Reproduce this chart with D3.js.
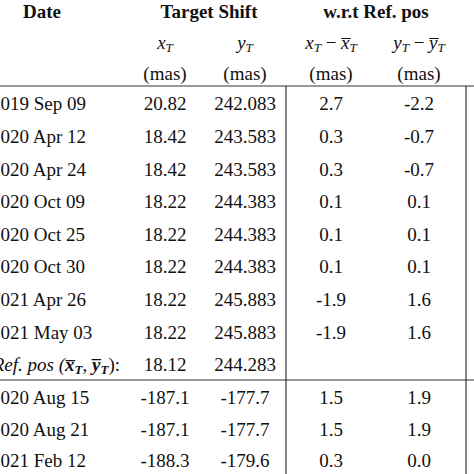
<!DOCTYPE html>
<html><head><meta charset="utf-8">
<script src="https://cdn.jsdelivr.net/npm/d3@7"></script>
<style>body{margin:0;background:#fff}svg{display:block}</style>
</head><body><svg id="c" width="474" height="474"></svg>
<script>
const dates = ["2019 Sep 09","2020 Apr 12","2020 Apr 24","2020 Oct 09","2020 Oct 25","2020 Oct 30","2021 Apr 26","2021 May 03"];
const xT = ["20.82","18.42","18.42","18.22","18.22","18.22","18.22","18.22"];
const yT = ["242.083","243.583","243.583","244.383","244.383","244.383","245.883","245.883"];
const dx = ["2.7","0.3","0.3","0.1","0.1","0.1","-1.9","-1.9"];
const dy = ["-2.2","-0.7","-0.7","0.1","0.1","0.1","1.6","1.6"];
const refPos = ["18.12","244.283"];
const dates2 = ["2020 Aug 15","2020 Aug 21","2021 Feb 12"];
const xT2 = ["-187.1","-187.1","-188.3"];
const yT2 = ["-177.7","-177.7","-179.6"];
const dx2 = ["1.5","1.5","0.3"];
const dy2 = ["1.9","1.9","0.0"];

const svg = d3.select("#c");
const F = "Liberation Serif, DejaVu Serif, serif";
const colX = d3.scaleOrdinal().domain(["xT","yT","dx","dy"]).range([165,245,331,419]);
const rowY1 = d3.scalePoint().domain(d3.range(9)).range([106,367]);
const rowY2 = d3.scalePoint().domain(d3.range(3)).range([400,463]);
const g = svg.append("g").attr("font-family",F).attr("font-size",19).attr("fill","#111");
function t(x,y,s,anchor="middle",extra={}){const e=g.append("text").attr("x",x).attr("y",y).attr("text-anchor",anchor).attr("dominant-baseline","middle").text(s);for(const k in extra)e.attr(k,extra[k]);return e;}
t(42,14,"Date","middle",{"font-weight":"bold"});
t(209,14,"Target Shift","middle",{"font-weight":"bold"});
t(376,14,"w.r.t Ref. pos","middle",{"font-weight":"bold"});
function mathLbl(x,v,bar){
  const e=g.append("text").attr("x",x).attr("y",45).attr("text-anchor","middle").attr("dominant-baseline","middle");
  e.append("tspan").attr("font-style","italic").text(v);
  e.append("tspan").attr("font-style","italic").attr("font-size",13).attr("dy",4).text("T");
  if(bar){e.append("tspan").attr("dy",-4).text(" − ");
    e.append("tspan").attr("font-style","italic").text(v+"\u0305");
    e.append("tspan").attr("font-style","italic").attr("font-size",13).attr("dy",4).text("T");}
}
mathLbl(colX("xT"),"x",false);mathLbl(colX("yT"),"y",false);
mathLbl(colX("dx"),"x",true);mathLbl(colX("dy"),"y",true);
["xT","yT","dx","dy"].forEach(k=>t(colX(k),76,"(mas)"));
dates.forEach((d,i)=>{const y=rowY1(i);
  t(-9,y,d,"start");t(colX("xT"),y,xT[i]);t(colX("yT"),y,yT[i]);t(colX("dx"),y,dx[i]);t(colX("dy"),y,dy[i]);});
const ry=rowY1(8);
const rp=g.append("text").attr("x",120).attr("y",ry).attr("text-anchor","end").attr("dominant-baseline","middle");
rp.append("tspan").attr("font-style","italic").text("Ref. pos (");
rp.append("tspan").attr("font-style","italic").attr("font-weight","bold").text("x\u0305");
rp.append("tspan").attr("font-style","italic").attr("font-weight","bold").attr("font-size",13).attr("dy",4).text("T");
rp.append("tspan").attr("dy",-4).text(", ");
rp.append("tspan").attr("font-style","italic").attr("font-weight","bold").text("y\u0305");
rp.append("tspan").attr("font-style","italic").attr("font-weight","bold").attr("font-size",13).attr("dy",4).text("T");
rp.append("tspan").attr("dy",-4).text("):");
t(colX("xT"),ry,refPos[0]);t(colX("yT"),ry,refPos[1]);
dates2.forEach((d,i)=>{const y=rowY2(i);
  t(-9,y,d,"start");t(colX("xT"),y,xT2[i]);t(colX("yT"),y,yT2[i]);t(colX("dx"),y,dx2[i]);t(colX("dy"),y,dy2[i]);});
const L=svg.append("g").attr("stroke","#333").attr("stroke-width",1.2);
L.append("line").attr("x1",0).attr("x2",474).attr("y1",86).attr("y2",86);
L.append("line").attr("x1",0).attr("x2",474).attr("y1",380).attr("y2",380);
L.append("line").attr("x1",286).attr("x2",286).attr("y1",86).attr("y2",474);
L.append("line").attr("x1",466).attr("x2",466).attr("y1",86).attr("y2",474);
</script></body></html>
